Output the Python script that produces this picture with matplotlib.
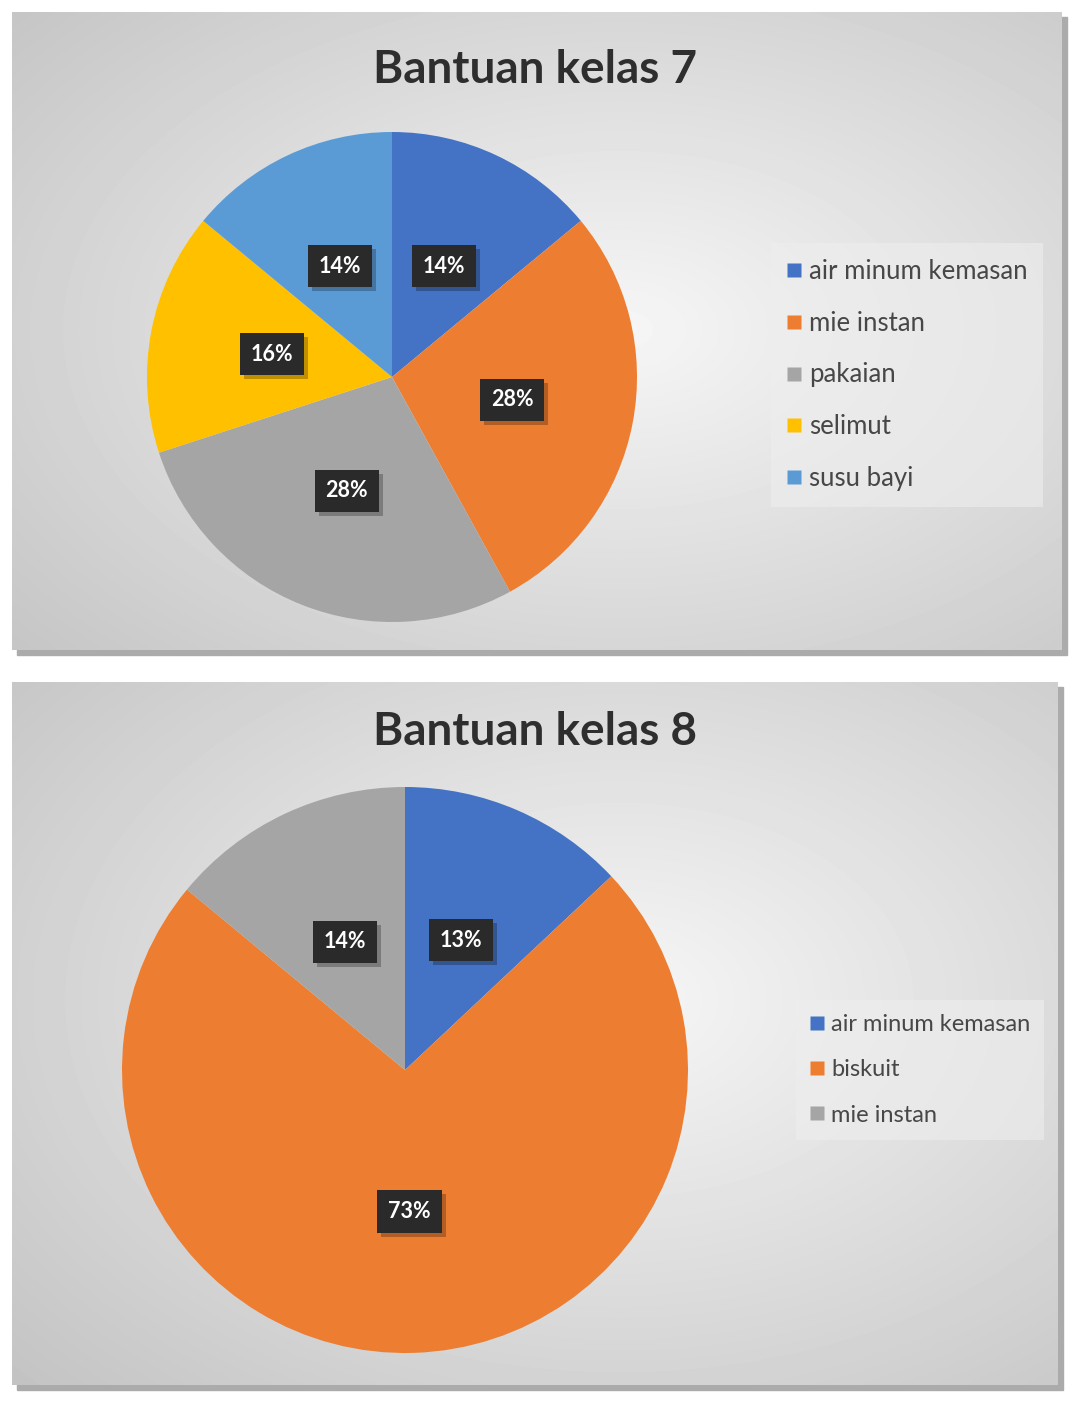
import numpy as np
import matplotlib.pyplot as plt
from matplotlib.patches import Rectangle
from matplotlib.lines import Line2D

plt.rcParams['font.family'] = ['Lato', 'DejaVu Sans']

# data
judul7 = 'Bantuan kelas 7'
barang7 = ['air minum kemasan', 'mie instan', 'pakaian', 'selimut', 'susu bayi']
persen7 = [14, 28, 28, 16, 14]
warna7 = ['#4472C4', '#ED7D31', '#A5A5A5', '#FFC000', '#5B9BD5']

judul8 = 'Bantuan kelas 8'
barang8 = ['air minum kemasan', 'biskuit', 'mie instan']
persen8 = [13, 73, 14]
warna8 = ['#4472C4', '#ED7D31', '#A5A5A5']

W, H = 1080, 1404
fig = plt.figure(figsize=(W / 100, H / 100), dpi=100)
fig.patch.set_facecolor('white')
ax = fig.add_axes([0, 0, 1, 1])
ax.set_xlim(0, W)
ax.set_ylim(0, H)
ax.set_aspect('equal')
ax.axis('off')

semua_label = []


def panel(x0, y0, x1, y1, lx, ly):
    # bayangan
    ax.add_patch(Rectangle((x0 + 5, H - y1 - 5), x1 - x0, y1 - y0, color='#ababab', zorder=0))
    yy, xx = np.mgrid[y0:y1:200j, x0:x1:300j]
    d = np.sqrt(((xx - lx) / (x1 - x0)) ** 2 + ((yy - ly) / (y1 - y0)) ** 2)
    img = 0.965 - 0.25 * d
    ax.imshow(img, cmap='gray', vmin=0, vmax=1, extent=(x0, x1, H - y1, H - y0),
              origin='upper', zorder=1, interpolation='bilinear')


def gambar_pie(nilai, warna, label, judul, cx, cy, r, ty, lx, ly, fs, spasi):
    wedges, _, auto = ax.pie(nilai, colors=warna, startangle=90, counterclock=False,
                             center=(cx, H - cy), radius=r, autopct='%1.0f%%',
                             pctdistance=0.5, frame=True,
                             wedgeprops=dict(linewidth=0, zorder=3),
                             textprops=dict(color='white', fontsize=15.5, fontweight='bold'))
    for t in auto:
        t.set_zorder(6)
        t.set_bbox(dict(boxstyle='square,pad=0.5', facecolor='#2a2a2a', edgecolor='none'))
        semua_label.append(t)
    ax.text(535, H - ty, judul, ha='center', va='center', fontsize=33,
            fontweight='bold', color='#2e2e2e', zorder=4)
    handles = [Line2D([], [], marker='s', linestyle='none', markersize=10,
                      markerfacecolor=c, markeredgecolor='none') for c in warna]
    lg = ax.legend(handles, label, loc='center', bbox_to_anchor=(lx / W, 1 - ly / H),
                   bbox_transform=fig.transFigure, fontsize=fs, frameon=True,
                   handlelength=0.6, handletextpad=0.3, labelspacing=spasi,
                   borderpad=0.6, labelcolor='#474747', fancybox=False)
    lg.get_frame().set_facecolor('#eeeeee')
    lg.get_frame().set_alpha(0.6)
    lg.get_frame().set_edgecolor('none')
    lg.set_zorder(4)
    return lg


panel(12, 12, 1062, 650, 620, 330)
panel(12, 682, 1058, 1385, 620, 1000)

lg1 = gambar_pie(persen7, warna7, barang7, judul7, 392, 377, 245, 70, 907, 375, 18.5, 1.05)
ax.add_artist(lg1)
gambar_pie(persen8, warna8, barang8, judul8, 405, 1070, 283, 732, 920, 1070, 17, 1.02)

ax.set_xlim(0, W)
ax.set_ylim(0, H)
ax.axis('off')

# bayangan kotak label
fig.canvas.draw()
for t in semua_label:
    bb = t.get_bbox_patch().get_window_extent()
    ax.add_patch(Rectangle((bb.x0 + 4, bb.y0 - 4), bb.width, bb.height,
                           facecolor='black', alpha=0.25, edgecolor='none', zorder=5))

fig.savefig('out.png', dpi=100)
